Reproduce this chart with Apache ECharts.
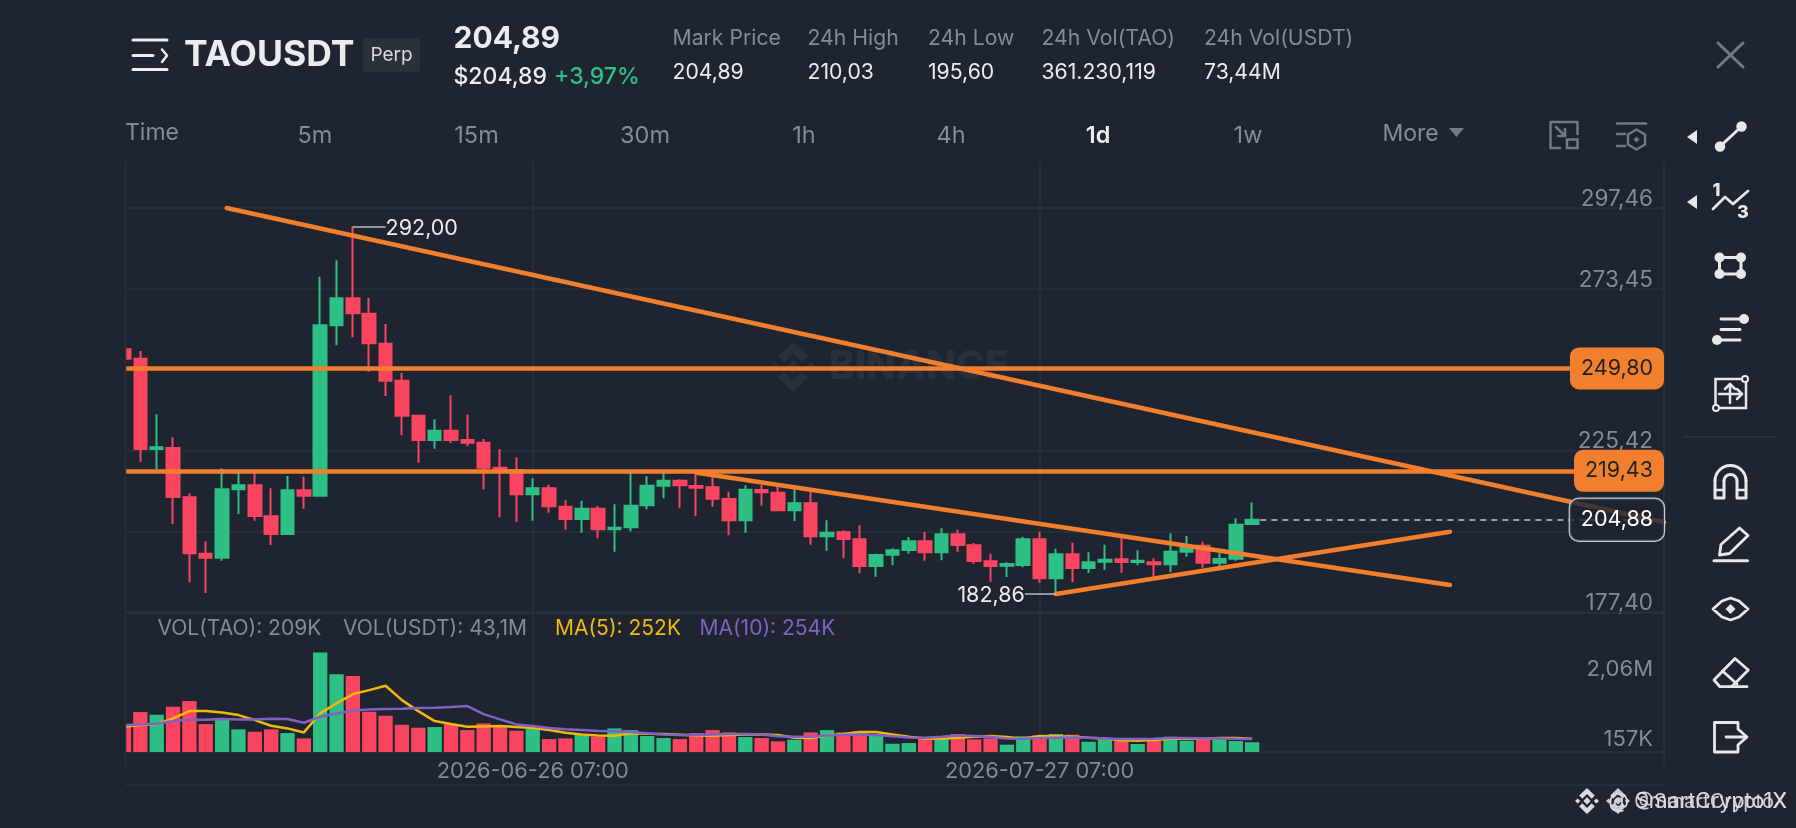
<!DOCTYPE html>
<html>
<head>
<meta charset="utf-8">
<title>TAOUSDT Perp</title>
<script src="https://cdn.jsdelivr.net/npm/echarts@6/dist/echarts.min.js"></script>
<style>
html,body{margin:0;padding:0;background:#1F2530;}
#c{width:1796px;height:828px;}
</style>
</head>
<body>
<div id="c"></div>
<script>
// ---------- data ----------
const opens  = [255.49,252.71,225.89,226.19,211.54,194.81,193.62,213.91,215.10,205.89,200.65,213.62,212.03,262.61,270.63,266.08,257.17,246.18,235.79,228.56,231.33,228.56,227.77,220.35,219.65,212.43,214.21,208.77,205.11,208.18,202.04,202.64,209.17,215.01,216.49,214.91,214.51,211.05,204.71,213.72,212.93,207.68,209.76,199.96,201.15,199.07,191.15,194.52,195.91,198.48,195.21,200.56,197.29,192.54,191.25,191.45,199.07,187.49,194.62,190.56,192.44,193.13,192.34,192.24,191.65,195.41,197.19,192.14,193.33,203.63];
const closes = [252.71,225.89,226.38,211.64,194.91,193.62,213.91,215.10,205.99,200.65,213.62,212.03,262.61,270.63,266.18,257.27,246.18,235.79,228.56,231.33,228.56,227.77,220.35,219.65,212.43,214.21,208.86,205.11,208.18,202.04,202.54,209.07,215.01,216.49,215.11,214.42,211.15,204.71,213.82,213.03,207.68,209.76,199.96,201.05,199.17,191.15,194.42,195.81,198.48,195.21,200.56,197.39,192.64,191.15,191.75,199.07,187.49,194.62,190.56,192.24,193.03,192.34,192.74,191.65,195.41,196.70,192.14,193.23,203.43,204.88];
const lows   = [252.71,222.13,219.85,203.62,186.30,183.13,192.73,206.59,204.61,197.38,200.55,208.17,211.73,256.67,259.05,248.85,241.63,229.95,221.83,225.99,227.67,226.78,213.91,205.60,204.21,204.61,206.98,201.94,201.05,199.37,195.41,201.45,207.98,211.25,208.48,206.00,208.77,200.26,201.05,209.07,207.59,204.52,197.49,195.71,193.43,188.98,187.99,191.35,194.82,192.74,192.84,195.41,191.85,186.50,187.89,190.76,186.20,182.86,186.30,189.08,189.97,189.17,191.35,187.99,189.27,193.93,190.66,191.15,192.74,203.43];
const highs  = [255.49,254.99,236.18,229.35,212.73,198.47,220.15,219.16,219.16,214.21,217.87,217.67,277.06,281.92,292.00,270.73,263.01,248.56,235.89,234.70,241.83,236.08,228.86,225.89,223.41,217.18,215.30,210.65,210.56,208.97,209.47,219.17,217.78,219.17,216.89,218.67,217.48,213.23,215.11,215.21,214.71,213.92,213.23,204.71,201.75,203.23,194.82,196.40,199.77,201.25,202.34,201.94,197.98,194.82,192.24,199.86,201.25,196.30,198.08,195.21,197.49,199.37,195.81,193.43,200.85,200.06,198.38,194.92,205.31,210.03];
// volume, thousands of TAO
const volumes = [370,635,576,772,951,408,479,336,308,336,293,241,5692,2567,2385,643,555,398,357,366,408,327,418,379,320,340,235,241,283,256,348,327,263,244,235,293,327,300,253,244,216,230,300,327,300,312,263,198,203,241,241,283,232,241,191,260,269,283,276,213,232,232,196,219,256,221,232,232,219,209];
const ma5  = [370,394,408,503,658,658,627,568,473,384,348,300,604,873,1231,1425,1671,987,658,456,408,370,375,379,366,352,327,297,279,269,266,290,286,283,276,269,266,272,279,279,272,247,244,269,283,304,304,279,256,241,238,247,256,263,253,238,263,260,256,247,241,224,221,227,238,238,238,244,244,238];
const ma10 = [394,403,413,456,479,479,491,485,485,497,491,429,534,604,675,700,709,718,735,744,763,792,590,485,403,379,352,336,327,316,312,304,290,279,272,272,279,283,283,279,260,256,256,269,276,279,272,260,250,247,256,269,263,253,241,238,244,247,250,247,241,235,235,238,244,244,241,241,238,236];
const dateTickIndex = [25,56];
const dateTickLabels = ['2026-06-26 07:00','2026-07-27 07:00'];
const priceGridTicks = [177.40,201.41,225.42,249.44,273.45,297.46];
const priceLabelTicks = [177.40,225.42,273.45,297.46];
const volumeTicks = [157,2060];
const trendUpper = [[6.28,297.46],[94.19,204.13]];
const trendLower = [[35.03,218.86],[81.1,185.51]];
const trendRising = [[57,182.86],[81.1,201.34]];
const levels = [249.80,219.43];
const lastPrice = 204.88;
const highPoint = [14,292.00];
const lowPoint = [57,182.86];

// ---------- styles ----------
const BG='#1F2530', GRID='#2B313B', MUTED='#848B97', TEXT='#EAECEF', UP='#2EBF85', DOWN='#FA4560', ORANGE='#F27F2E';
const FONT='Inter';
const xMin=0.092, xMax=94.19, yMin=177.40, yMax=310.82, vMin=146, vMax=25000;
const comma=(v,d=2)=>v.toFixed(d).replace('.',',');
const idx=opens.map((_,i)=>i);

// ---------- page chrome ----------
const g=[];
const T=(x,y,text,size,fill,o={})=>g.push({type:'text',x,y,silent:true,z:o.z??50,style:{text,fill,font:`${o.w||400} ${size}px ${FONT}`,textAlign:o.a||'left',textVerticalAlign:'middle'}});
const PL=(pts,color='#EAECEF',w=3,o={})=>g.push({type:'polyline',silent:true,z:o.z??50,shape:{points:pts},style:{stroke:color,lineWidth:w,fill:'none',lineCap:o.cap||'round',lineJoin:'round'}});
const PG=(pts,fill,o={})=>g.push({type:'polygon',silent:true,z:o.z??50,shape:{points:pts},style:{fill:o.noFill?'none':fill,stroke:o.noFill?fill:null,lineWidth:o.w||0,lineJoin:'round'}});
const C=(cx,cy,r,fill,o={})=>g.push({type:'circle',silent:true,z:o.z??50,shape:{cx,cy,r},style:{fill,stroke:o.stroke||null,lineWidth:o.w||0}});
const R=(x,y,width,height,o)=>g.push({type:'rect',silent:true,z:o.z??50,shape:{x,y,width,height,r:o.r||0},style:{fill:o.fill||'none',stroke:o.stroke||null,lineWidth:o.w||0}});
const A=(cx,cy,r,s,e,color,w)=>g.push({type:'arc',silent:true,z:50,shape:{cx,cy,r,startAngle:s,endAngle:e,clockwise:true},style:{stroke:color,lineWidth:w,fill:'none'}});

// the first day is cut by the left edge of the plot
R(90,163,35.5,590,{fill:BG,z:40});
// frame
[[ [125.5,163],[125.5,765] ],[ [1664,163],[1664,765] ],[ [125.5,612.3],[1664,612.3] ],[ [125.5,752],[1664,752] ],[ [125.5,785],[1664,785] ]]
 .forEach((p,i)=>PL(p,GRID,1.5,{z:i===0?45:1,cap:'butt'}));

// header
PL([[133,40],[167,40]]);PL([[133,55.5],[153,55.5]]);PL([[133,69.5],[167,69.5]]);PL([[162,49.5],[167,55.5],[162,62]],'#EAECEF',2.5);
T(184,55,'TAOUSDT',35.5,'#EAECEF',{w:700});
R(363,38,57,34,{fill:'#2B3139',r:4});
T(391.5,55.5,'Perp',19,'#D5D8DC',{a:'center'});
T(453.5,39,'204,89',30,'#EAECEF',{w:700});
T(453.5,77,'$204,89',23,'#EAECEF',{w:500});
T(554,77,'+3,97%',23,UP,{w:500});
const stats=[[672.5,'Mark Price','204,89'],[807.5,'24h High','210,03'],[928,'24h Low','195,60'],[1041.5,'24h Vol(TAO)','361.230,119'],[1204,'24h Vol(USDT)','73,44M']];
stats.forEach(s=>{T(s[0],39,s[1],21.2,MUTED);T(s[0],73,s[2],21.2,'#EAECEF');});
PL([[1718,43],[1743,67]],'#707A8A',3);PL([[1743,43],[1718,67]],'#707A8A',3);

// tabs
T(125,133,'Time',23,MUTED);
[[315,'5m'],[476.5,'15m'],[645,'30m'],[804,'1h'],[951,'4h'],[1248,'1w']].forEach(t=>T(t[0],136,t[1],23.5,MUTED,{a:'center'}));
T(1098,136,'1d',23.5,'#EAECEF',{a:'center',w:600});
T(1382.5,134,'More',23,MUTED);
PG([[1449,128],[1464,128],[1456.5,137]],'#707A8A');
// view icons
const IC='#707A8A';
PL([[1577.5,134],[1577.5,122],[1550.5,122],[1550.5,148],[1560,148]],IC,2.5);
R(1567,139.5,10.5,8.5,{stroke:IC,w:2.5});
PL([[1556,127],[1565,136]],IC,2.5);PL([[1565,129],[1565,136],[1558,136]],IC,2.5);
PL([[1617,123.5],[1646,123.5]],IC,2.5);PL([[1617,134],[1625,134]],IC,2.5);PL([[1617,146],[1625,146]],IC,2.5);
PG([[1636.5,129.5],[1645,134.5],[1645,144.5],[1636.5,149.5],[1628,144.5],[1628,134.5]],IC,{noFill:true,w:2.5});
PG([[1636.5,136.5],[1639.5,139.5],[1636.5,142.5],[1633.5,139.5]],IC);

// right tool bar
const W='#E6E8EA';
PG([[1697,130],[1697,144],[1687,137]],W);PG([[1697,195],[1697,209],[1687,202]],W);
PL([[1720,146.5],[1741.5,126.5]],W,3);C(1720,146.5,5.2,W);C(1741.5,126.5,5.2,W);
PL([[1713,209],[1725,197],[1733,204],[1748,191]],W,2.8);
T(1716.5,191,'1',18,W,{a:'center',w:800});T(1743,213,'3',18,W,{a:'center',w:800});
PL([[1719.5,257.5],[1741,257.5],[1741,274],[1719.5,274],[1719.5,257.5]],W,3);
[[1719.5,257.5],[1741,257.5],[1719.5,274],[1741,274]].forEach(p=>C(p[0],p[1],5,W));
PL([[1721,319],[1744,319]],W,2.8);C(1744,319,5,W);PL([[1721,329.5],[1740,329.5]],W,2.8);PL([[1717,340],[1740,340]],W,2.8);C(1717,340,5,W);
R(1715.5,379,30.5,29,{stroke:W,w:2.5});
C(1745,379,3,BG,{stroke:W,w:2});C(1716,408,3,BG,{stroke:W,w:2});
PL([[1730,384],[1730,403]],W,2.5);PL([[1719,394],[1742,394]],W,2.5);PL([[1725,389],[1730,384],[1735,389]],W,2.5);PL([[1737,389],[1742,394],[1737,399]],W,2.5);
PL([[1684,436.7],[1777,436.7]],GRID,1.5,{cap:'butt'});
A(1730.5,481,15.5,Math.PI,2*Math.PI,W,3);A(1730.5,481,6.5,Math.PI,2*Math.PI,W,3);
PL([[1715,481],[1715,498],[1724,498],[1724,481]],W,3);PL([[1746,481],[1746,498],[1737,498],[1737,481]],W,3);
PL([[1715,490],[1724,490]],W,2.5);PL([[1737,490],[1746,490]],W,2.5);
PG([[1719.5,555],[1721,544.5],[1739.5,528],[1748,535.5],[1729.5,553.5]],W,{noFill:true,w:2.8});
PL([[1714,560.7],[1747.5,560.7]],W,3);
PG([[1713,609],[1722,601],[1730.5,598],[1739,601],[1748,609],[1739,617],[1730.5,620],[1722,617]],W,{noFill:true,w:2.8});
PG([[1730.5,604],[1735.5,609],[1730.5,614],[1725.5,609]],W);
PG([[1714,680],[1735,658.5],[1748.3,670],[1731.7,686.7],[1720,686.7]],W,{noFill:true,w:2.8});
PL([[1722.5,671],[1737,684]],W,2.8);PL([[1731,686.7],[1747,686.7]],W,2.8);
PL([[1738,729],[1738,722.5],[1714.5,722.5],[1714.5,752],[1738,752],[1738,745]],W,2.8);
PL([[1726,737],[1746,737]],W,2.8);PL([[1739,730],[1747,737],[1739,744]],W,2.8);

// Binance logo
function logo(cx,cy,s,fill,z){
  const d=(x,y,h)=>PG([[cx+x,cy+y-h],[cx+x+h,cy+y],[cx+x,cy+y+h],[cx+x-h,cy+y]],fill,{z});
  d(0,0,.28*s);d(-.72*s,0,.2*s);d(.72*s,0,.2*s);
  PG([[cx,cy-s],[cx+.6*s,cy-.42*s],[cx+.36*s,cy-.18*s],[cx,cy-.54*s],[cx-.36*s,cy-.18*s],[cx-.6*s,cy-.42*s]],fill,{z});
  PG([[cx,cy+s],[cx+.6*s,cy+.42*s],[cx+.36*s,cy+.18*s],[cx,cy+.54*s],[cx-.36*s,cy+.18*s],[cx-.6*s,cy+.42*s]],fill,{z});
}
logo(793,367,25,'#2A303B',0);
T(829,367.5,'BINANCE',39,'#2A303B',{w:800,z:0});
logo(1587,801,13,'#D8DBDF',50);
logo(1618,801,13,'#C8CBD0',50);
T(1787,802,'@SmartCryptoX',20,'#C9CDD2',{a:'right'});
T(1787,802,'@ SmartCrypto1X',21.5,'#D8DBDF',{a:'right'});

// volume caption
T(157.5,629,'VOL(TAO): 209K',21,MUTED);
T(343,629,'VOL(USDT): 43,1M',21,MUTED);
T(555,629,'MA(5): 252K',21,'#F0B90B');
T(699.5,629,'MA(10): 254K',21,'#8062C4');

// ---------- chart ----------
const tag=(value,fill,color,border)=>({show:true,position:'insideEnd',distance:0,align:'right',verticalAlign:'middle',
  formatter:comma(value),color,fontFamily:FONT,fontSize:21.5,lineHeight:22,backgroundColor:fill,borderColor:border||fill,borderWidth:border?1.2:0,borderRadius:9,padding:[10,11,10,11]});
const note=value=>({show:true,position:'end',distance:0,offset:[0,2],color:TEXT,fontFamily:FONT,fontSize:21.5,formatter:comma(value)});
const leader={color:'#B7BDC6',width:1.5,type:'solid'};

const chart=echarts.init(document.getElementById('c'));
chart.setOption({
  animation:false,
  backgroundColor:BG,
  textStyle:{fontFamily:FONT},
  graphic:{elements:g},
  grid:[
    {left:125.5,right:132,top:163,height:449.3},
    {left:125.5,right:132,top:612.3,height:139.7}
  ],
  xAxis:[
    {type:'value',gridIndex:0,min:xMin,max:xMax,axisLine:{show:false},
     axisTick:{show:false,customValues:dateTickIndex},axisLabel:{show:false,customValues:dateTickIndex},
     splitLine:{show:true,lineStyle:{color:GRID,width:1.5}}},
    {type:'value',gridIndex:1,min:xMin,max:xMax,axisLine:{show:false},
     axisTick:{show:false,customValues:dateTickIndex},
     axisLabel:{show:true,customValues:dateTickIndex,margin:8,color:MUTED,fontFamily:FONT,fontSize:21.8,showMinLabel:true,showMaxLabel:true,
       formatter:v=>dateTickLabels[dateTickIndex.indexOf(v)]||''},
     splitLine:{show:true,lineStyle:{color:GRID,width:1.5}}}
  ],
  yAxis:[
    {type:'value',gridIndex:0,position:'right',min:yMin,max:yMax,axisLine:{show:false},
     axisTick:{show:false,customValues:priceGridTicks},
     axisLabel:{inside:true,margin:11,align:'right',verticalAlign:'bottom',lineHeight:18,customValues:priceLabelTicks,color:MUTED,fontFamily:FONT,fontSize:22.5,formatter:v=>comma(v)},
     splitLine:{show:true,lineStyle:{color:GRID,width:1.5}}},
    {type:'log',gridIndex:1,position:'right',min:vMin,max:vMax,axisLine:{show:false},
     axisTick:{show:false,customValues:volumeTicks},
     axisLabel:{inside:true,margin:11,align:'right',verticalAlign:'bottom',customValues:volumeTicks,color:MUTED,fontFamily:FONT,fontSize:22,
       formatter:v=>v>=1000?comma(v/1000)+'M':v+'K'},
     splitLine:{show:false}}
  ],
  series:[
    {type:'candlestick',name:'TAOUSDT',xAxisIndex:0,yAxisIndex:0,barWidth:13,
     data:idx.map(i=>[i,opens[i],closes[i],lows[i],highs[i]]),
     itemStyle:{color:UP,color0:DOWN,borderColor:UP,borderColor0:DOWN,borderWidth:2},
     markLine:{silent:true,symbol:'none',animation:false,precision:2,z:8,
       data:[
         [{coord:[xMin,levels[0]],lineStyle:{color:ORANGE,width:4.5,type:'solid'},label:tag(levels[0],ORANGE,'#1E2329')},{coord:[xMax,levels[0]]}],
         [{coord:[xMin,levels[1]],lineStyle:{color:ORANGE,width:4.5,type:'solid'},label:tag(levels[1],ORANGE,'#1E2329')},{coord:[xMax,levels[1]]}],
         [{coord:[69.5,lastPrice],lineStyle:{color:'#C4C9D0',width:1.5,type:[6,5]},label:tag(lastPrice,'rgba(31,37,48,0.82)','#FFFFFF','#C4C9D0')},{coord:[xMax,lastPrice]}],
         [{coord:highPoint,lineStyle:leader,label:note(highPoint[1])},{coord:[highPoint[0]+2,highPoint[1]]}],
         [{coord:lowPoint,lineStyle:leader,label:note(lowPoint[1])},{coord:[lowPoint[0]-1.9,lowPoint[1]]}]
       ]}
    },
    ...[trendUpper,trendLower,trendRising].map(d=>({type:'line',xAxisIndex:0,yAxisIndex:0,z:6,data:d,symbol:'none',
       lineStyle:{color:ORANGE,width:4.5,cap:'round'},silent:true})),
    {type:'bar',name:'Volume',xAxisIndex:1,yAxisIndex:1,barWidth:14.3,
     data:idx.map(i=>({value:[i,volumes[i]],itemStyle:{color:closes[i]>=opens[i]?UP:DOWN}}))},
    {type:'line',name:'MA5',xAxisIndex:1,yAxisIndex:1,z:4,symbol:'none',data:idx.map(i=>[i,ma5[i]]),lineStyle:{color:'#F0B90B',width:2.5}},
    {type:'line',name:'MA10',xAxisIndex:1,yAxisIndex:1,z:5,symbol:'none',data:idx.map(i=>[i,ma10[i]]),lineStyle:{color:'#8062C4',width:2.5}}
  ]
});
</script>
</body>
</html>
